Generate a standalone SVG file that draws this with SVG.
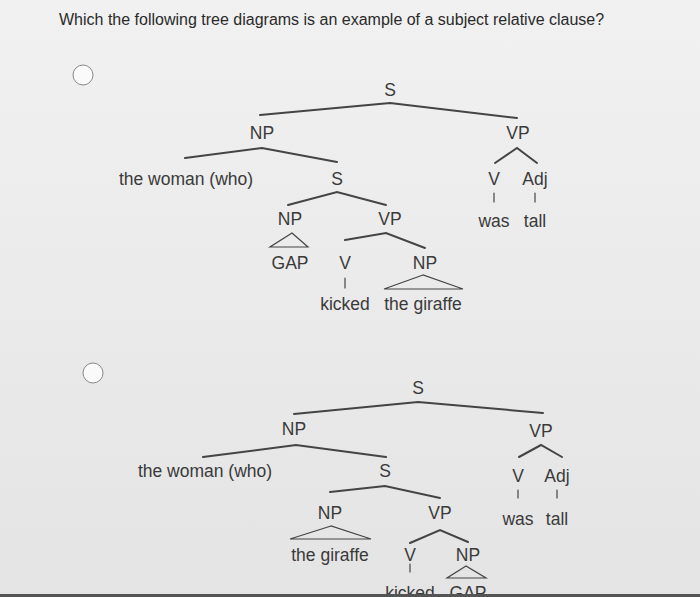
<svg xmlns="http://www.w3.org/2000/svg" width="700" height="597" viewBox="0 0 700 597">
<defs><linearGradient id="bg" x1="0" y1="0" x2="0" y2="1"><stop offset="0" stop-color="#f1f1f1"/><stop offset="1" stop-color="#e4e4e4"/></linearGradient></defs>
<style>
text{font-family:"Liberation Sans",Arial,sans-serif;font-size:17.5px;fill:#3a3a3a;text-anchor:middle}
.q{font-size:16px;text-anchor:start;fill:#2a2a2a}
line,polyline,polygon{stroke:#444;stroke-width:2;fill:none;stroke-linecap:round}
.thin{stroke-width:1.2}
circle{fill:#fafafa;stroke:#888;stroke-width:1}
</style>
<rect width="700" height="597" fill="url(#bg)"/>
<text class="q" x="59" y="25">Which the following tree diagrams is an example of a subject relative clause?</text>
<circle cx="83" cy="75" r="10"/>
<circle cx="93" cy="373" r="10"/>
<g id="connectors">
<polyline points="260,115 390,103 517,118"/>
<polyline points="185,158 262,148 337,162"/>
<polyline points="288,205 337,192 386,205"/>
<polygon class="thin" points="292,233 270,247 308,247"/>
<polyline points="345,240 386,233 425,248"/>
<line class="thin" x1="345" y1="278" x2="345" y2="288"/>
<polygon class="thin" points="423,275 384,289 463,289"/>
<polyline points="495,163 517,148 537,163"/>
<line class="thin" x1="494" y1="193" x2="494" y2="202"/>
<line class="thin" x1="535" y1="193" x2="535" y2="202"/>
<polyline points="294,414 418,402 543,413"/>
<polyline points="203,457 296,445 386,457"/>
<polyline points="330,492 385,486 440,498"/>
<polygon class="thin" points="331,526 290,539 371,539"/>
<polyline points="410,543 440,530 468,542"/>
<line class="thin" x1="410" y1="564" x2="410" y2="572"/>
<polygon class="thin" points="466,566 447,578 486,578"/>
<polyline points="519,457 541,445 562,457"/>
<line class="thin" x1="518" y1="490" x2="518" y2="498"/>
<line class="thin" x1="557" y1="490" x2="557" y2="498"/>
</g>
<g id="tree1">
<text x="390" y="96">S</text>
<text x="262" y="139">NP</text><text x="518" y="139">VP</text>
<text x="186" y="185">the woman (who)</text><text x="337" y="185">S</text>
<text x="290" y="225">NP</text><text x="390" y="225">VP</text>
<text x="290" y="269">GAP</text><text x="345" y="269">V</text><text x="425" y="269">NP</text>
<text x="345" y="310">kicked</text><text x="423" y="310">the giraffe</text>
<text x="494" y="185">V</text><text x="535" y="185">Adj</text>
<text x="494" y="227">was</text><text x="535" y="227">tall</text>
</g>
<g id="tree2">
<text x="418" y="394">S</text>
<text x="294" y="435">NP</text><text x="541" y="437">VP</text>
<text x="205" y="477">the woman (who)</text><text x="385" y="477">S</text>
<text x="330" y="519">NP</text><text x="440" y="519">VP</text>
<text x="330" y="561">the giraffe</text><text x="410" y="561">V</text><text x="468" y="561">NP</text>
<text x="410" y="599">kicked</text><text x="468" y="599">GAP</text>
<text x="518" y="482">V</text><text x="557" y="482">Adj</text>
<text x="518" y="525">was</text><text x="557" y="525">tall</text>
</g>
<rect x="0" y="594" width="700" height="3" fill="#555"/>
</svg>
